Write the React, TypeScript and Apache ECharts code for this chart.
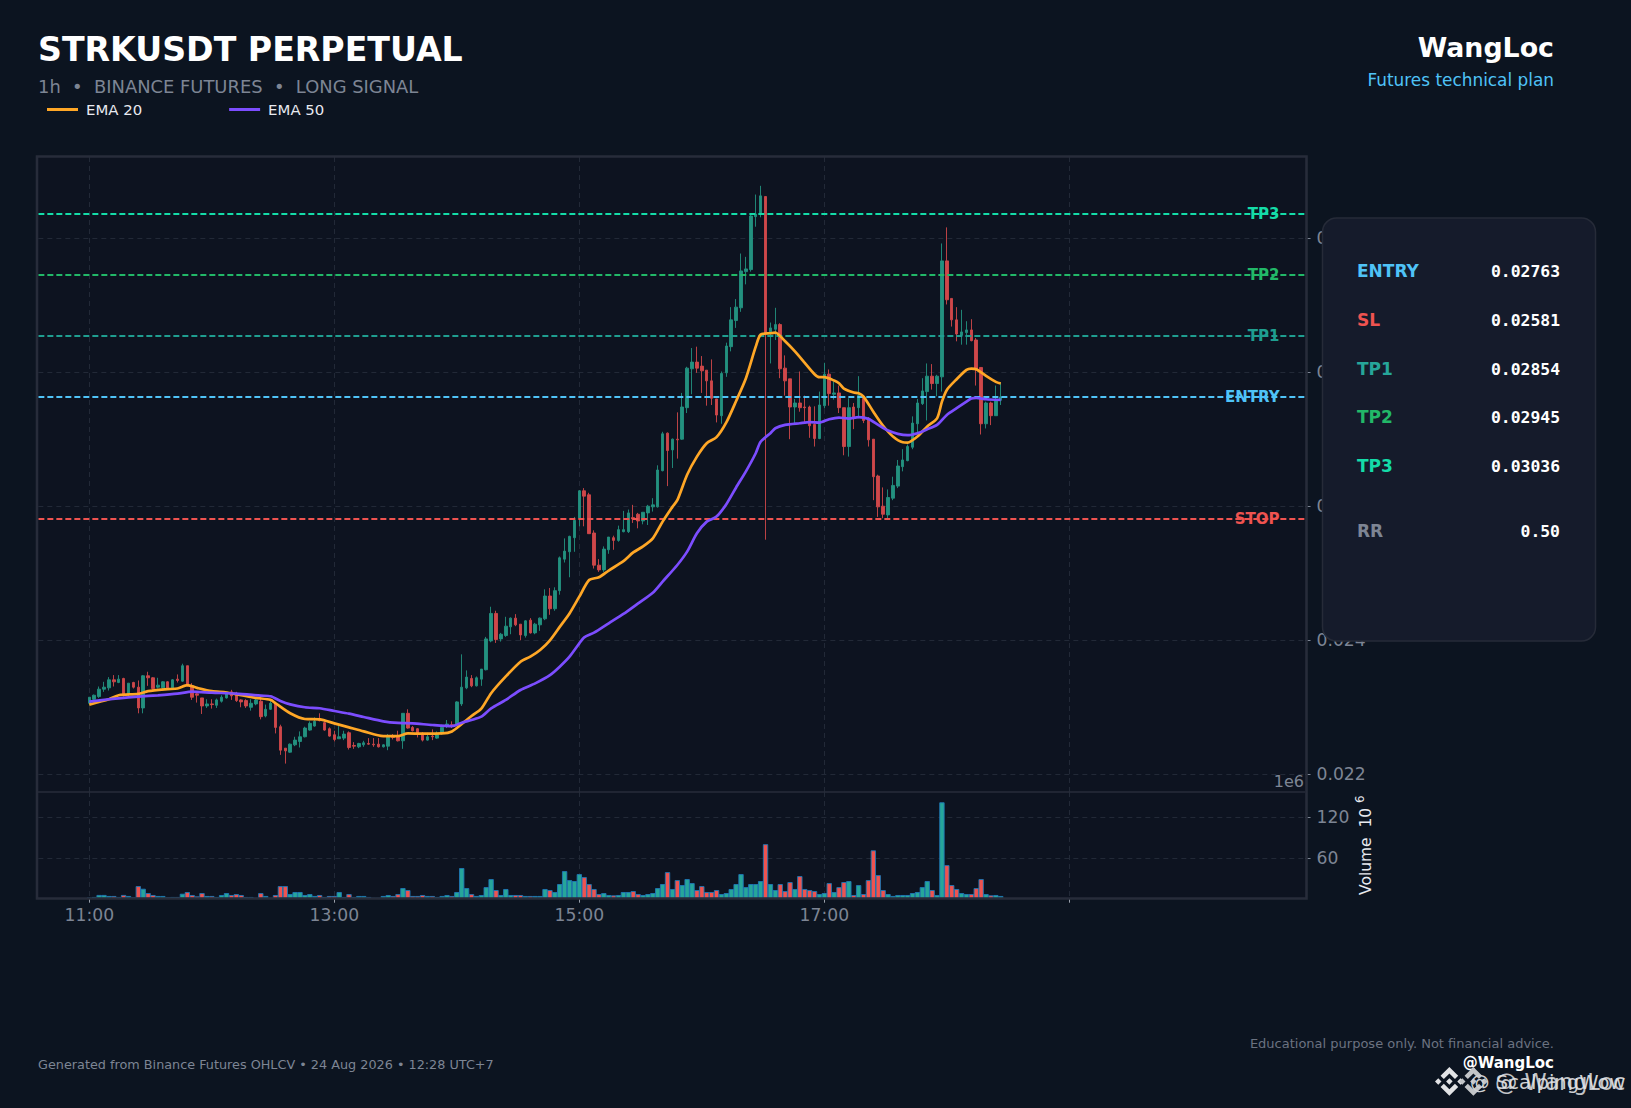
import React, { useEffect, useRef } from "react";
import * as echarts from "echarts";

// Prices are listed in units of 0.00001 USDT.
const PRICE_UNIT = 0.00001;
const timeLabels = ["11:00", "13:00", "15:00", "17:00", ""];
const timeTicks = [0, 50, 100, 150, 200];
const priceTicks = [0.022, 0.024, 0.026, 0.028, 0.03];
const volumeTicks = [60, 120];

// open, close, low, high
const ohlc = [
[2306,2315,2303,2315],[2312,2318,2311,2319],[2316,2327,2314,2331],[2327,2330,2323,2338],[2329,2341,2325,2345],[2341,2338,2331,2348],[2337,2342,2336,2348],[2343,2318,2316,2344],[2320,2336,2316,2336],[2337,2330,2328,2338],
[2330,2299,2291,2340],[2299,2347,2291,2348],[2347,2344,2332,2353],[2344,2328,2326,2345],[2330,2333,2328,2344],[2329,2338,2326,2339],[2338,2329,2327,2339],[2329,2341,2328,2342],[2342,2340,2337,2349],[2339,2362,2338,2365],
[2362,2332,2331,2362],[2332,2315,2311,2336],[2320,2318,2307,2321],[2314,2302,2290,2314],[2302,2305,2299,2312],[2305,2304,2298,2312],[2303,2311,2299,2313],[2309,2315,2307,2318],[2314,2323,2313,2323],[2323,2317,2311,2326],
[2318,2310,2308,2323],[2311,2308,2300,2312],[2310,2302,2299,2312],[2300,2306,2295,2312],[2305,2311,2303,2315],[2309,2286,2282,2317],[2287,2297,2285,2304],[2297,2306,2296,2309],[2306,2270,2261,2306],[2271,2236,2229,2274],
[2239,2235,2216,2239],[2233,2245,2232,2246],[2244,2251,2242,2256],[2249,2256,2240,2264],[2256,2269,2255,2271],[2266,2276,2265,2279],[2272,2279,2271,2285],[2283,2280,2279,2291],[2277,2266,2265,2279],[2268,2257,2256,2270],
[2259,2252,2249,2265],[2253,2256,2253,2272],[2254,2260,2251,2265],[2262,2240,2237,2264],[2243,2242,2238,2248],[2241,2246,2239,2247],[2244,2247,2241,2250],[2246,2245,2244,2254],[2245,2244,2241,2254],[2245,2241,2240,2254],
[2241,2244,2240,2245],[2242,2256,2236,2260],[2256,2255,2252,2260],[2257,2250,2249,2265],[2250,2291,2238,2291],[2291,2269,2268,2297],[2270,2265,2264,2272],[2268,2260,2255,2269],[2261,2251,2249,2263],[2251,2256,2250,2262],
[2257,2256,2251,2267],[2254,2259,2253,2264],[2262,2270,2259,2274],[2272,2275,2269,2281],[2274,2272,2269,2279],[2275,2308,2274,2309],[2305,2330,2302,2379],[2329,2345,2327,2355],[2343,2332,2330,2348],[2332,2344,2331,2346],
[2342,2357,2332,2357],[2356,2402,2355,2405],[2399,2440,2397,2450],[2440,2401,2396,2444],[2402,2409,2398,2411],[2407,2421,2405,2435],[2420,2433,2409,2434],[2433,2423,2421,2439],[2424,2408,2400,2424],[2407,2429,2404,2430],
[2430,2411,2410,2433],[2411,2424,2409,2426],[2423,2433,2414,2434],[2432,2466,2430,2476],[2466,2447,2438,2478],[2447,2474,2444,2479],[2474,2523,2468,2525],[2521,2533,2516,2552],[2532,2555,2494,2556],[2553,2579,2532,2584],
[2582,2623,2570,2624],[2623,2615,2570,2627],[2617,2559,2559,2620],[2560,2512,2507,2564],[2512,2505,2502,2521],[2505,2536,2502,2540],[2535,2554,2529,2554],[2553,2549,2535,2556],[2549,2565,2547,2571],[2562,2565,2561,2593],
[2562,2590,2560,2595],[2583,2581,2575,2602],[2588,2578,2567,2590],[2578,2591,2573,2591],[2590,2600,2572,2602],[2599,2602,2592,2612],[2599,2654,2598,2661],[2653,2708,2652,2711],[2709,2683,2630,2710],[2684,2700,2657,2701],
[2700,2699,2671,2740],[2700,2748,2699,2769],[2747,2806,2739,2808],[2805,2815,2767,2836],[2815,2806,2799,2838],[2809,2802,2769,2824],[2803,2787,2750,2803],[2787,2761,2751,2819],[2760,2736,2725,2760],[2735,2798,2723,2801],
[2799,2839,2793,2844],[2838,2878,2831,2897],[2877,2897,2866,2909],[2896,2951,2890,2977],[2950,2954,2931,2972],[2953,3033,2950,3037],[3032,3036,3017,3065],[3036,3063,3031,3078],[3062,2858,2550,3062],[2858,2866,2813,2874],
[2864,2871,2848,2896],[2871,2805,2791,2873],[2806,2787,2765,2825],[2790,2748,2700,2790],[2748,2754,2724,2760],[2754,2747,2741,2801],[2748,2747,2724,2765],[2748,2720,2702,2750],[2722,2701,2689,2749],[2701,2751,2700,2771],
[2750,2797,2746,2814],[2797,2768,2750,2804],[2767,2769,2759,2786],[2769,2747,2739,2780],[2747,2689,2676,2747],[2689,2747,2674,2761],[2748,2731,2715,2754],[2747,2765,2731,2794],[2761,2728,2724,2765],[2729,2699,2689,2733],
[2700,2644,2609,2700],[2645,2599,2584,2647],[2600,2588,2582,2628],[2587,2613,2582,2625],[2612,2631,2609,2644],[2630,2660,2627,2669],[2659,2669,2652,2685],[2668,2689,2667,2692],[2688,2724,2685,2734],[2723,2754,2709,2760],
[2753,2772,2751,2791],[2771,2794,2728,2813],[2794,2783,2774,2812],[2783,2794,2764,2796],[2793,2966,2771,2992],[2966,2908,2901,3016],[2910,2878,2868,2910],[2878,2857,2846,2897],[2855,2860,2841,2893],[2859,2863,2841,2876],
[2863,2847,2846,2879],[2848,2805,2780,2851],[2807,2723,2707,2807],[2723,2754,2716,2756],[2754,2735,2721,2756],[2735,2759,2735,2780],[2758,2763,2751,2784],
];

// millions
const volumes = [
1.5,2.5,5.5,5.5,4,4,2.5,5.5,4,2,18.5,14.6,8.3,5.4,4,4,2,2.5,2.5,7.3,9.8,5.4,3.4,8.3,4,4,2.5,5.4,8.3,5.4,6.8,5.4,2.5,2.5,1,8.3,4,1,5.4,18.5,18.5,6.8,9.8,9.8,5.4,6.8,4,5.4,2.5,4,
4,9.8,2.5,6.8,2.5,4,4,2.5,1,1,4,5.4,4,6.8,15.6,12.7,4,4,5.4,4,4,2.5,4,5.4,4,9.8,45,15.6,6.8,4,5.4,17,28.8,12.7,5.4,14.2,5.4,5.4,5.4,4,4,4,4,14.2,12.7,9.8,21.5,40.5,27.3,25.9,
36.1,31.7,21.5,14.2,6.8,8.3,5.4,4.9,5.4,9.8,9.8,11.2,6.8,5.4,6.8,8.3,15.6,21.5,39,14.2,27.3,20,28.8,22.9,12.7,18.5,9.8,9.8,12.7,6.8,8.3,14.2,21.5,36.1,17,21.5,21.5,25.9,80,21.5,12.7,21.5,11.2,24.4,14.2,33.2,14.2,12.7,11.2,6.8,
8.3,22.9,9.8,17,24.4,25.9,5.4,20,6.8,27.3,71,34.6,12.7,6.8,4,5.4,5.4,5.4,8.3,9.8,17,25.9,12.7,5.4,141.5,49.3,20,14.2,8.3,6.8,6.8,15.6,28.8,6.8,4.9,5.4,4,
];

// candle index, price
const ema20 = [
[0,2304],[4,2312],[6,2318],[10,2320],[12,2324],[16,2327],[18,2328],[20,2333],[22,2329],[25,2324],[28,2322],[31,2318],[34,2314],[37,2311],[38,2306],[41,2291],[44,2282.5],[47,2282],[50,2276],[53,2270],[56,2264],[60,2257],[63,2257],[65,2261],[68,2260.6],[72,2261],[74,2264],[76,2275],[78,2287],[80,2298],[82,2321],[85,2346],[88,2368],[90,2375.5],[92,2385.5],[94,2400],[96,2420],[98,2440],[100,2465],[102,2490],[104,2494],[106,2504],[109,2518],[111,2531],[113,2540],[115,2552],[117,2577],[119,2599],[120,2609],[122,2647],[124,2674],[126,2694],[128,2703],[130,2725],[132,2757],[134,2791],[136,2838],[137,2856],[139,2858],[140,2859],[142,2846],[144,2831],[146,2814],[148,2797],[149,2792.5],[150,2792.5],[152,2787.5],[153,2783.5],[154,2775.5],[156,2769.6],[157,2768.6],[158,2763.6],[160,2741],[162,2720],[164,2704],[166,2695.4],[167,2695],[169,2704],[171,2719],[173,2731],[174,2756],[175,2773.5],[177,2789.5],[179,2803.4],[180,2805.4],[181,2804.4],[183,2794.4],[185,2785.5],[186,2783],
];
const ema50 = [
[0,2308.4],[4,2312],[6,2313.4],[10,2315.9],[14,2317.9],[18,2320.4],[21,2323.3],[25,2321.8],[30,2320.4],[35,2317.4],[37,2316.4],[39,2309.4],[41,2304.4],[44,2300],[47,2298.5],[50,2294.5],[53,2290.5],[56,2285.5],[60,2279],[63,2276.6],[66,2276],[70,2273.6],[74,2272],[76,2277],[78,2281],[80,2286],[82,2298.4],[85,2311],[88,2325.8],[91,2335.7],[94,2348],[96,2360.6],[98,2375.5],[100,2395.4],[101,2404.4],[103,2411.3],[106,2425.3],[109,2439.2],[112,2455],[115,2471],[117,2487.5],[120,2512.3],[122,2532.2],[124,2559.6],[126,2577],[128,2584.5],[130,2603],[132,2628],[134,2652],[136,2679],[137,2696.2],[139,2709],[140,2716.3],[142,2721.3],[145,2723.8],[147,2725.3],[149,2724.8],[151,2729.8],[153,2732.3],[155,2730.8],[157,2732.8],[159,2730.3],[161,2721.3],[163,2712.8],[165,2707.9],[167,2705.9],[169,2708.9],[171,2714.8],[173,2721.3],[175,2736.2],[177,2746.2],[179,2756],[180,2760.6],[181,2761.6],[183,2759.6],[186,2758.6],
];

const levelNames = ["TP3", "TP2", "TP1", "ENTRY", "STOP"];
const levelValues = [0.03036, 0.02945, 0.02854, 0.02763, 0.02581];
const levelColors = ["#14dca8", "#22b868", "#1f9e90", "#4fc3f7", "#ef5350"];

const panelNames = ["ENTRY", "SL", "TP1", "TP2", "TP3", "RR"];
const panelValues = ["0.02763", "0.02581", "0.02854", "0.02945", "0.03036", "0.50"];
const panelColors = ["#4fc3f7", "#ef5350", "#26a69a", "#22b868", "#14dca8", "#7d8594"];
const panelRows = [271, 320, 369, 417, 466, 531];

const SANS = '"DejaVu Sans"';
const MONO = '"DejaVu Sans Mono"';
const GRAY = "#7d8594";
const LOGO =
  "M16.624 13.9202l2.7175 2.7154-7.353 7.353-7.353-7.352 2.7175-2.7164 4.6355 4.6595 4.6356-4.6595zm4.6366-4.6366L24 12l-2.7154 2.7164L18.5682 12l2.6924-2.7164zm-9.272.001l2.7163 2.6914-2.7164 2.7174v-.001L9.2721 12l2.7164-2.7154zm-9.2722-.001L5.4088 12l-2.6914 2.6924L0 12l2.7164-2.7164zM11.9885.0115l7.353 7.329-2.7174 2.7154-4.6356-4.6356-4.6355 4.6595-2.7174-2.7154 7.353-7.353z";

const txt = (text: string, x: number, y: number, font: string, fill: string, align = "left", extra: any = {}) => ({
  type: "text",
  x,
  y,
  z: 110,
  silent: true,
  ...extra,
  style: { text, font, fill, align, verticalAlign: "middle", ...(extra.style || {}) },
});

export default function App() {
  const ref = useRef<HTMLDivElement>(null);
  useEffect(() => {
    document.body.style.margin = "0";
    document.body.style.background = "#0c1420";
    echarts.graphic.registerShape("binanceLogo", echarts.graphic.extendPath(LOGO, {}) as any);
    const chart = echarts.init(ref.current!, undefined, { renderer: "svg" });
    const xBase = {
      type: "value",
      min: -10.4,
      max: 248.2,
      axisLine: { show: false, onZero: false },
      splitLine: { show: true, lineStyle: { color: "#222937", type: [5, 4], width: 1 } },
      axisTick: { customValues: timeTicks, length: 4, lineStyle: { color: "#9aa0ab" } },
    };
    const yBase = {
      type: "value",
      position: "right",
      axisLine: { show: false, onZero: false },
      axisTick: { show: true, length: 5, lineStyle: { color: "#7d8594" } },
      splitLine: { show: true, lineStyle: { color: "#222937", type: [5, 4], width: 1 } },
    };
    const labelStyle = { color: GRAY, fontFamily: SANS, fontSize: 17.2 };
    chart.setOption({
      animation: false,
      backgroundColor: "#0c1420",
      grid: [
        { left: 38.34, width: 1267.2, top: 157, height: 635, containLabel: false, show: true, backgroundColor: "#0d1320", borderWidth: 0 },
        { left: 38.34, width: 1267.2, top: 792, height: 106.7, containLabel: false, show: true, backgroundColor: "#0d1320", borderWidth: 0 },
      ],
      legend: {
        left: 42,
        top: 97,
        itemWidth: 31,
        itemHeight: 3,
        itemGap: 87,
        icon: "rect",
        data: ["EMA 20", "EMA 50"],
        textStyle: { color: "#e8eaf0", fontFamily: SANS, fontSize: 14.9, padding: [0, 0, 0, 3] },
      },
      xAxis: [
        { ...xBase, gridIndex: 0, axisLabel: { show: false }, axisTick: { ...xBase.axisTick, show: false } },
        {
          ...xBase,
          gridIndex: 1,
          axisLabel: {
            ...labelStyle,
            margin: 8,
            customValues: timeTicks,
            formatter: (v: number) => timeLabels[timeTicks.indexOf(v)] ?? "",
          },
        },
      ],
      yAxis: [
        {
          ...yBase,
          gridIndex: 0,
          min: 0.021736,
          max: 0.03121,
          axisTick: { ...yBase.axisTick, customValues: priceTicks },
          axisLabel: { ...labelStyle, margin: 11, padding: [3, 0, 0, 0], customValues: priceTicks, formatter: (v: number) => v.toFixed(3) },
        },
        {
          ...yBase,
          gridIndex: 1,
          min: 0,
          max: 156.6,
          axisTick: { ...yBase.axisTick, customValues: volumeTicks },
          axisLabel: { ...labelStyle, margin: 11, padding: [3, 0, 0, 0], customValues: volumeTicks },
        },
      ],
      series: [
        {
          type: "candlestick",
          name: "Price",
          xAxisIndex: 0,
          yAxisIndex: 0,
          barWidth: 3,
          z: 3,
          data: ohlc.map((r, i) => [i, r[0] * PRICE_UNIT, r[1] * PRICE_UNIT, r[2] * PRICE_UNIT, r[3] * PRICE_UNIT]),
          itemStyle: {
            color: "#23917f",
            color0: "#cf474a",
            borderColor: "#23917f",
            borderColor0: "#cf474a",
            borderWidth: 0.9,
          },
        },
        {
          type: "line",
          name: "EMA 20",
          xAxisIndex: 0,
          yAxisIndex: 0,
          z: 6,
          showSymbol: false,
          smooth: 0.25,
          color: "#ffa726",
          lineStyle: { color: "#ffa726", width: 2.7 },
          data: ema20.map(([i, p]) => [i, p * PRICE_UNIT]),
          markLine: {
            silent: true,
            symbol: "none",
            precision: 5,
            z: 4,
            data: levelNames.map((name, i) => ({
              name,
              yAxis: levelValues[i],
              lineStyle: { color: levelColors[i], type: [6, 3], width: 2, opacity: 1 },
              label: {
                show: true,
                formatter: name,
                position: "insideEnd",
                distance: 26,
                padding: [0, 0, 2, 0],
                color: levelColors[i],
                fontFamily: SANS,
                fontWeight: "bold",
                fontSize: 15,
              },
            })),
          },
        },
        {
          type: "line",
          name: "EMA 50",
          xAxisIndex: 0,
          yAxisIndex: 0,
          z: 6,
          showSymbol: false,
          smooth: 0.25,
          color: "#7c4dff",
          lineStyle: { color: "#7c4dff", width: 2.7 },
          data: ema50.map(([i, p]) => [i, p * PRICE_UNIT]),
        },
        {
          type: "bar",
          name: "Volume",
          xAxisIndex: 1,
          yAxisIndex: 1,
          barWidth: 5.3,
          data: volumes.map((v, i) => ({
            value: [i, v],
            itemStyle: {
              color: ohlc[i][1] >= ohlc[i][0] ? "#26a69a" : "#ef5350",
              borderColor: "#1f77b4",
              borderWidth: 0.9,
            },
          })),
        },
      ],
      graphic: [
        { type: "rect", z: 90, silent: true, shape: { x: 37, y: 156.5, width: 1269.5, height: 742 }, style: { fill: "none", stroke: "#272c3a", lineWidth: 2.6 } },
        { type: "line", z: 90, silent: true, shape: { x1: 38, y1: 792, x2: 1305, y2: 792 }, style: { stroke: "#272c3a", lineWidth: 1.5 } },
        txt("STRKUSDT PERPETUAL", 38, 49, `bold 33.2px ${SANS}`, "#ffffff"),
        txt("1h  •  BINANCE FUTURES  •  LONG SIGNAL", 38, 86, `17.9px ${SANS}`, GRAY),
        txt("WangLoc", 1554, 47, `bold 26.8px ${SANS}`, "#ffffff", "right"),
        txt("Futures technical plan", 1554, 80, `16.9px ${SANS}`, "#4fc3f7", "right"),
        txt("1e6", 1304, 781, `16px ${SANS}`, GRAY, "right"),
        txt("Volume  10", 1366, 895, `15.5px ${SANS}`, "#e8eaf0", "left", { rotation: Math.PI / 2 }),
        txt("6", 1360, 803, `12px ${SANS}`, "#e8eaf0", "left", { rotation: Math.PI / 2 }),
        { type: "rect", z: 100, silent: true, shape: { x: 1322.5, y: 218, width: 273, height: 423, r: 14 }, style: { fill: "#151b2b", stroke: "#262b38", lineWidth: 1.5 } },
        ...panelNames.map((n, i) => txt(n, 1357, panelRows[i], `bold 17px ${SANS}`, panelColors[i])),
        ...panelValues.map((v, i) => txt(v, 1560, panelRows[i], `bold 16.4px ${MONO}`, "#ffffff", "right")),
        txt("Generated from Binance Futures OHLCV • 24 Aug 2026 • 12:28 UTC+7", 38, 1064, `12.8px ${SANS}`, GRAY),
        txt("Educational purpose only. Not financial advice.", 1554, 1043, `13px ${SANS}`, "#6b7280", "right"),
        txt("@WangLoc", 1554, 1063, `bold 15px ${SANS}`, "#ffffff", "right"),
        { type: "binanceLogo", x: 1435, y: 1067, scaleX: 1.2, scaleY: 1.2, z: 110, silent: true, style: { fill: "#e2e3e5" } },
        { type: "binanceLogo", x: 1459, y: 1067, scaleX: 1.2, scaleY: 1.2, z: 110, silent: true, style: { fill: "#c2c4c7" } },
        txt("@ ScalpingWow", 1470, 1082, `19.6px ${SANS}`, "#cfd0d3", "left"),
        txt("@ WangLoc", 1495, 1082, `22.4px ${SANS}`, "#e2e3e6", "left", { style: { opacity: 0.85 } }),
      ],
    });
    return () => chart.dispose();
  }, []);
  return <div ref={ref} style={{ width: 1631, height: 1108, position: "absolute", left: 0, top: 0 }} />;
}
